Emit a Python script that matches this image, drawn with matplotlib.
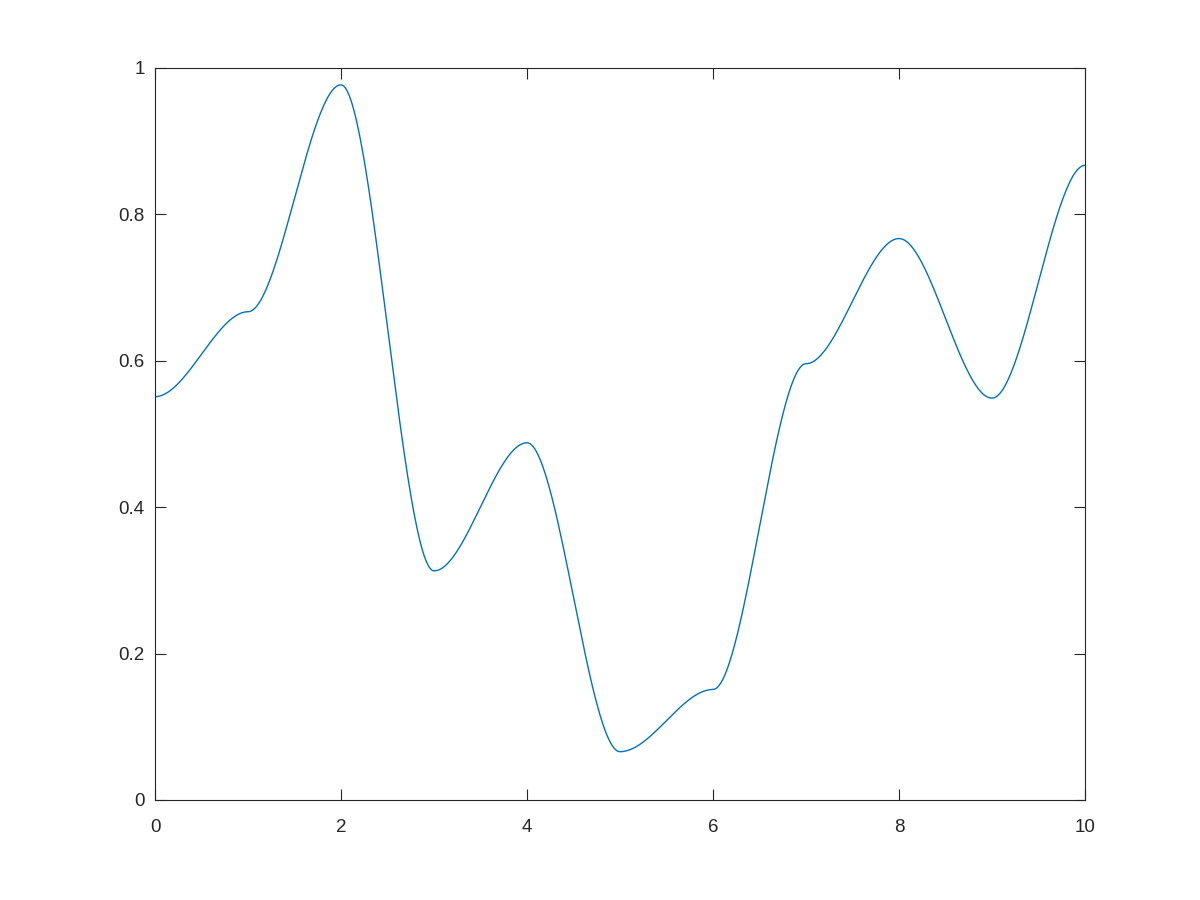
import numpy as np
import matplotlib
matplotlib.use("Agg")
import matplotlib.pyplot as plt

# knot values
x_knots = [0, 1, 2, 3, 4, 5, 6, 7, 8, 9, 10]
y_knots = [0.551, 0.667, 0.977, 0.313, 0.488, 0.066, 0.151, 0.596, 0.767, 0.549, 0.867]
x_ticks = [0, 2, 4, 6, 8, 10]
y_ticks = [0, 0.2, 0.4, 0.6, 0.8, 1]
x_ticklabels = ["0", "2", "4", "6", "8", "10"]
y_ticklabels = ["0", "0.2", "0.4", "0.6", "0.8", "1"]

# render the curve as a cubic Hermite with zero slope at each knot
xs, ys = [], []
for i in range(len(x_knots) - 1):
    t = np.linspace(0, 1, 60, endpoint=(i == len(x_knots) - 2))
    h = 3 * t**2 - 2 * t**3
    xs.append(x_knots[i] + t * (x_knots[i + 1] - x_knots[i]))
    ys.append(y_knots[i] + h * (y_knots[i + 1] - y_knots[i]))
xs = np.concatenate(xs)
ys = np.concatenate(ys)

plt.rcParams['font.family'] = ['Liberation Sans', 'DejaVu Sans']
fig = plt.figure(figsize=(12, 9), dpi=100)
ax = fig.add_axes([155 / 1200, 1 - 800 / 900, 930 / 1200, 732 / 900])
ax.plot(xs, ys, color='#0072BD', linewidth=1.0)
ax.set_xlim(0, 10)
ax.set_ylim(0, 1)
ax.set_xticks(x_ticks)
ax.set_xticklabels(x_ticklabels)
ax.set_yticks(y_ticks)
ax.set_yticklabels(y_ticklabels)
ax.tick_params(direction='in', top=True, right=True, length=8, width=0.8,
               colors='#262626', labelsize=13.5)
ax.tick_params(axis='x', pad=14)
ax.tick_params(axis='y', pad=7.5)
for s in ax.spines.values():
    s.set_color('#262626')
    s.set_linewidth(0.8)
fig.savefig('out.png', dpi=100)
